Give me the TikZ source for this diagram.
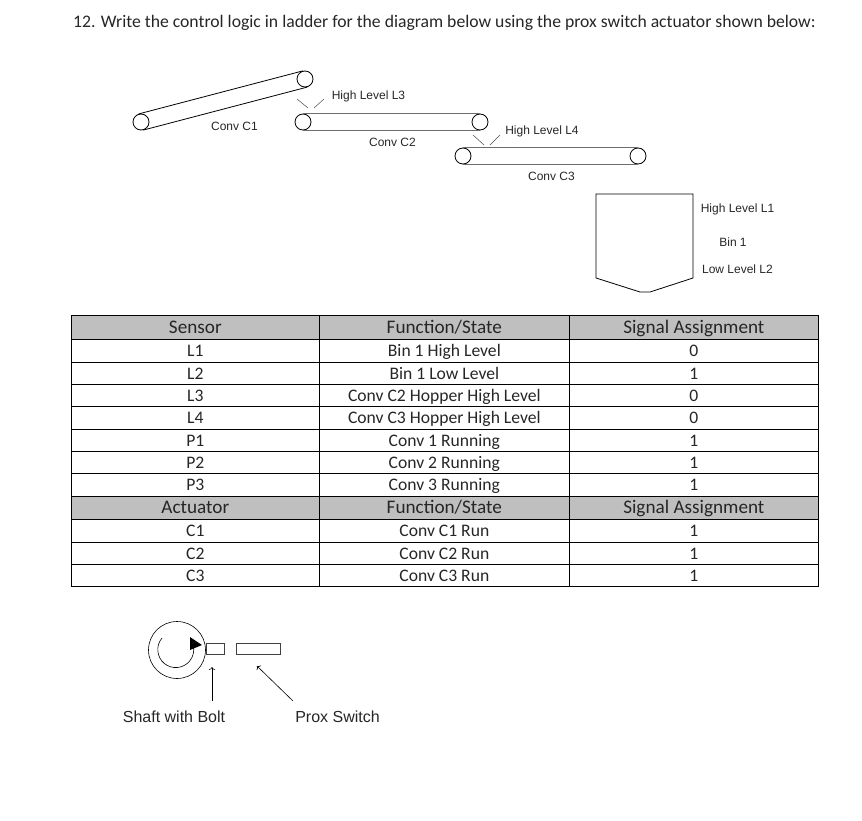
\documentclass[tikz,border=0pt]{standalone}
\usepackage{fontspec}
\setmainfont{Carlito}
\newfontfamily\labelfont{Liberation Sans}
\usepackage{xcolor}
\usepackage{tikz}
\usetikzlibrary{arrows.meta,shapes,positioning}
\definecolor{headgray}{HTML}{BFBFBF}
\definecolor{beltgray}{HTML}{6E6E6E}

\begin{document}
\begin{tikzpicture}[x=1pt,y=-1pt,
    pulley/.style={draw,circle,inner sep=0pt,minimum size=16pt,fill=white,line width=0.8pt},
    lab/.style={inner sep=0pt,text height=9pt,text depth=0pt,font=\labelfont\fontsize{12}{14}\selectfont,text=black!85},
    biglab/.style={inner sep=0pt,text height=12pt,text depth=0pt,font=\labelfont\fontsize{16}{18}\selectfont,text=black!85},
    cell/.style={draw,line width=0.7pt,inner sep=0pt,anchor=north west,text height=14pt,text depth=2pt,font=\fontsize{17.6}{20}\selectfont,text=black!85},
    headcell/.style={cell,fill=headgray,font=\fontsize{19.2}{22}\selectfont},
    belt/.style={line width=0.8pt},
    graybelt/.style={line width=1.6pt,draw=beltgray},
    tick/.style={line width=0.5pt,draw=black!70},
    box/.style={draw=black!75,line width=1pt,inner sep=0pt,fill=white}]
  \useasboundingbox (0,0) rectangle (862,821);
  \node[inner sep=0pt,anchor=west,font=\fontsize{17.67}{20}\selectfont,text=black!85] (title) at (73,23) {12. Write the control logic in ladder for the diagram below using the prox switch actuator shown below:};

  % conveyors
  \node[pulley] (c1a) at (141,122) {};
  \node[pulley] (c1b) at (305,79) {};
  \node[pulley] (c2a) at (303,122) {};
  \node[pulley] (c2b) at (480,122) {};
  \node[pulley] (c3a) at (463,156) {};
  \node[pulley] (c3b) at (638,156) {};
  \draw[belt] (c1a.105) -- (c1b.105);
  \draw[belt] (c1a.285) -- (c1b.285);
  \draw[graybelt] (c2a.north) -- (c2b.north);
  \draw[graybelt] (c2a.south) -- (c2b.south);
  \draw[graybelt] (c3a.north) -- (c3b.north);
  \draw[graybelt] (c3a.south) -- (c3b.south);
  \node[lab] (conv1) at (234.5,126) {Conv C1};
  \node[lab] (conv2) at (392.5,142) {Conv C2};
  \node[lab] (conv3) at (551.5,176) {Conv C3};
  \node[lab] (high3) at (368.5,95) {High Level L3};
  \node[lab] (high4) at (542,130) {High Level L4};

  % level sensors
  \coordinate (l3a) at (297,99);
  \coordinate (l3b) at (308,108);
  \coordinate (l3c) at (324,99);
  \coordinate (l3d) at (314,108);
  \coordinate (l4a) at (473,135);
  \coordinate (l4b) at (484,145);
  \coordinate (l4c) at (500,135);
  \coordinate (l4d) at (490,145);
  \draw[tick] (l3a) -- (l3b);
  \draw[tick] (l3c) -- (l3d);
  \draw[tick] (l4a) -- (l4b);
  \draw[tick] (l4c) -- (l4d);

  % bin
  \draw[line width=0.8pt] (596,194) -- (693,194) -- (693,278) -- (650,292) -- (640,292) -- (596,278) -- cycle;
  \node[lab] (high1) at (737.5,208) {High Level L1};
  \node[lab] (bin1) at (733,242) {Bin 1};
  \node[lab] (low2) at (737.5,269) {Low Level L2};

  % table
  \foreach \i/\y/\h/\a/\b/\c/\f in {
      1/315/24/Sensor/{Function/State}/Signal Assignment/headcell,
      2/339/23/L1/Bin 1 High Level/0/cell,
      3/362/22/L2/Bin 1 Low Level/1/cell,
      4/384/22/L3/Conv C2 Hopper High Level/0/cell,
      5/406/23/L4/Conv C3 Hopper High Level/0/cell,
      6/429/22/P1/Conv 1 Running/1/cell,
      7/451/22/P2/Conv 2 Running/1/cell,
      8/473/23/P3/Conv 3 Running/1/cell,
      9/496/23/Actuator/{Function/State}/Signal Assignment/headcell,
      10/519/23/C1/Conv C1 Run/1/cell,
      11/542/22/C2/Conv C2 Run/1/cell,
      12/564/22/C3/Conv C3 Run/1/cell}{
    \node[\f,minimum width=248pt,minimum height=\h pt] (sens\i) at (71,\y) {\a};
    \node[\f,minimum width=250pt,minimum height=\h pt] (func\i) at (319,\y) {\b};
    \node[\f,minimum width=249pt,minimum height=\h pt] (sign\i) at (569,\y) {\c};
  }

  % shaft and switch
  \node[draw,circle,inner sep=0pt,minimum size=57pt,line width=0.6pt] (shaft) at (177,650) {};
  \node[box,minimum width=18pt,minimum height=11pt] (bolt) at (215,649) {};
  \node[box,minimum width=44pt,minimum height=11pt] (prox) at (258,649) {};
  \draw[line width=0.6pt] (162,638) arc (220:-15:18);
  \fill (190,637) -- (202,645) -- (190,650) -- cycle;
  \node[biglab] (shaftlab) at (174,716) {Shaft with Bolt};
  \node[biglab] (proxlab) at (337.5,716) {Prox Switch};
  \coordinate (sa) at (212,701);
  \coordinate (sb) at (212,667);
  \coordinate (pa) at (293,701);
  \coordinate (pb) at (257,666);
  \draw[->,line width=0.6pt] (sa) -- (sb);
  \draw[->,line width=0.6pt] (pa) -- (pb);
\end{tikzpicture}
\end{document}
